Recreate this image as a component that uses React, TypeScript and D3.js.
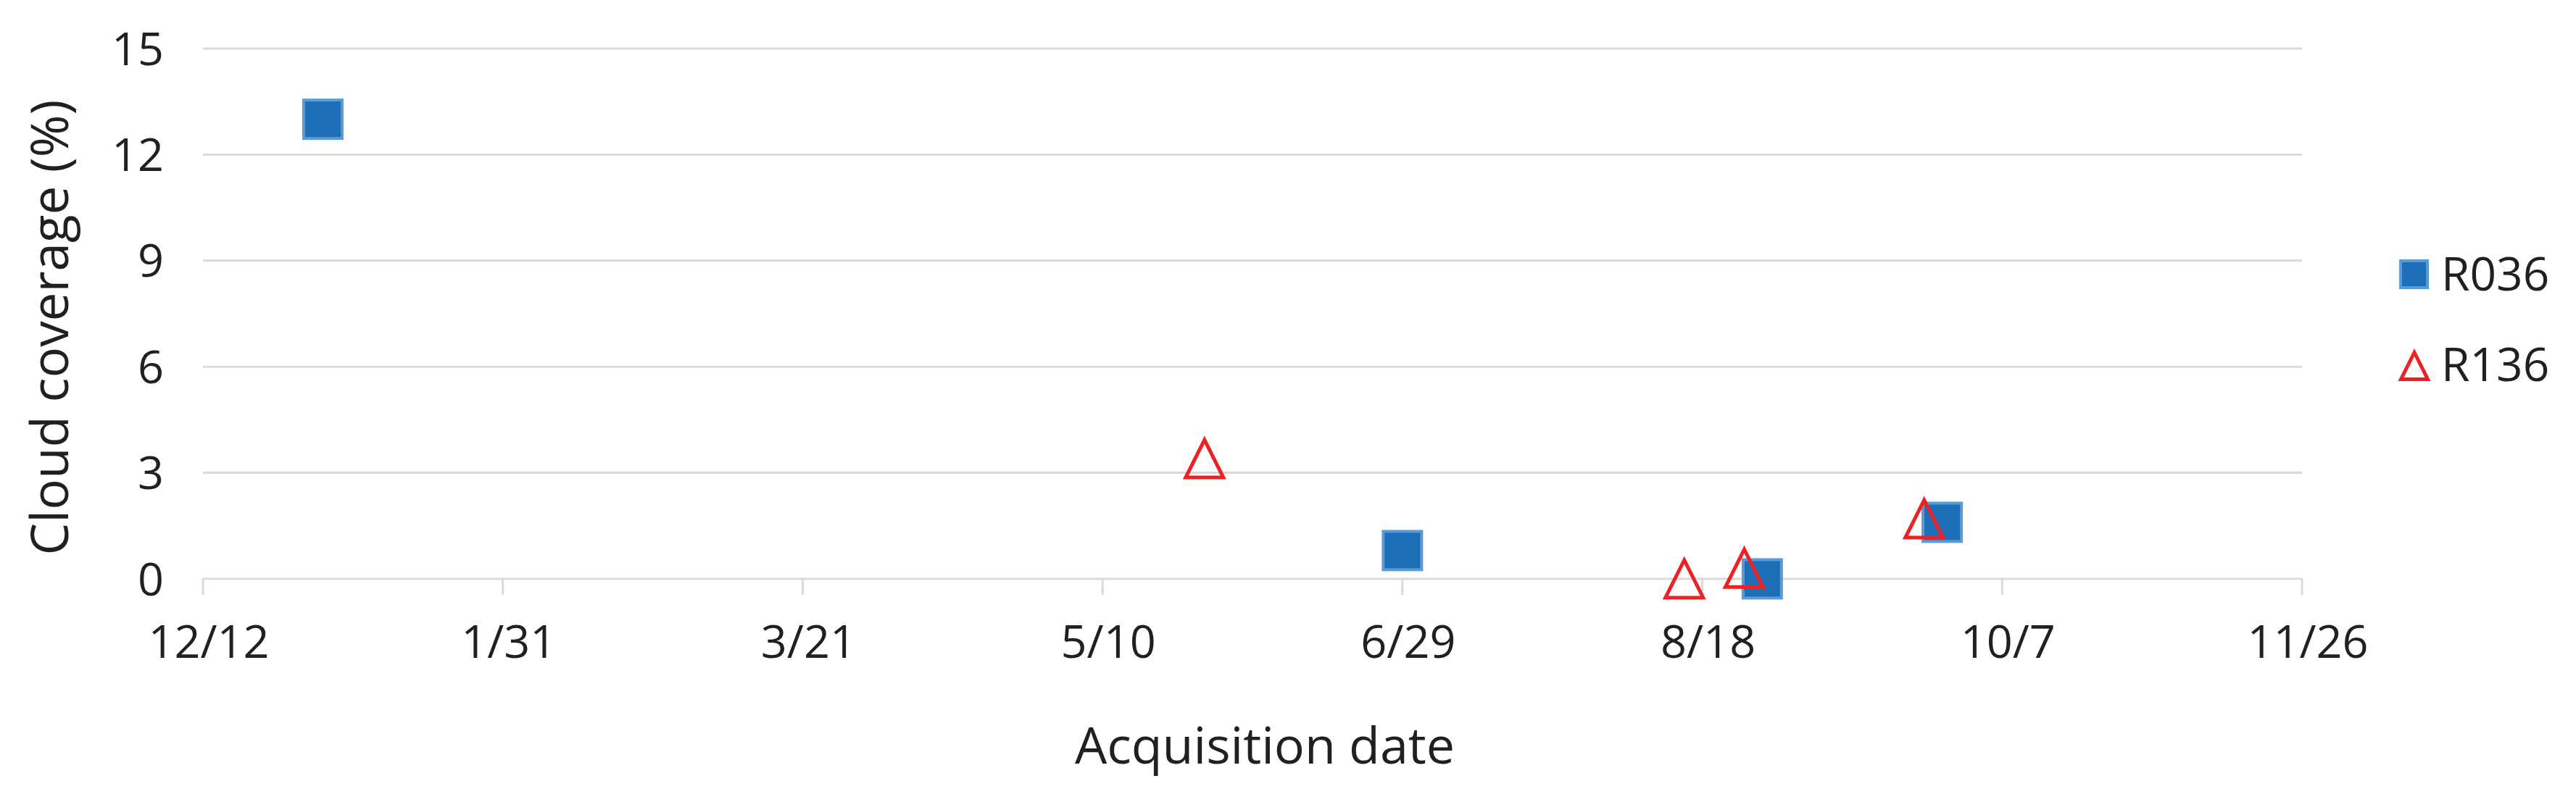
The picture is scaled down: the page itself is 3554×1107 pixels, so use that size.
import React from 'react'
import * as d3 from 'd3'

// R036 / R136 acquisitions (date, cloud %)
const r036Dates = ['2016-01-01', '2016-06-29', '2016-08-28', '2016-09-27']
const r036Cloud = [13, 0.8, 0, 1.6]
const r136Dates = ['2016-05-27', '2016-08-15', '2016-08-25', '2016-09-24']
const r136Cloud = [3.4, 0, 0.3, 1.7]

const xTickDates = ['2015-12-12', '2016-01-31', '2016-03-21', '2016-05-10', '2016-06-29', '2016-08-18', '2016-10-07', '2016-11-26']
const yTicks = [0, 3, 6, 9, 12, 15]
const seriesNames = ['R036', 'R136']

const W = 3554
const H = 1107
const margin = { left: 280, right: 378, top: 67, bottom: 308 }
const font = '"Open Sans", "Noto Sans", sans-serif'
const ink = '#231F20'
const grid = '#D9D9D9'
const sqFill = '#1C6FB7'
const sqStroke = '#5B9BD5'
const triStroke = '#ED2024'

const parse = d3.utcParse('%Y-%m-%d')
const fmt = d3.utcFormat('%-m/%-d')

const tri = (cx: number, cy: number, r: number) =>
  `M${cx},${cy - r}L${cx + r},${cy + r}L${cx - r},${cy + r}Z`

export default function App() {
  const innerW = W - margin.left - margin.right
  const innerH = H - margin.top - margin.bottom
  const ticks = xTickDates.map(d => parse(d) as Date)

  const x = d3.scaleUtc()
    .domain([ticks[0], ticks[ticks.length - 1]])
    .range([margin.left, margin.left + innerW])

  const y = d3.scaleLinear()
    .domain([0, 15])
    .range([margin.top + innerH, margin.top])

  const r036 = r036Dates.map((d, i) => ({ date: parse(d) as Date, v: r036Cloud[i] }))
  const r136 = r136Dates.map((d, i) => ({ date: parse(d) as Date, v: r136Cloud[i] }))

  const x0 = x.range()[0]
  const x1 = x.range()[1]
  const base = y(0)

  return (
    <svg width={W} height={H} style={{ position: 'absolute', left: 0, top: 0, background: '#fff' }}>
      {/* gridlines */}
      {yTicks.map((t, i) => (
        <g key={i}>
          <line x1={x0} x2={x1} y1={y(t)} y2={y(t)} stroke={grid} strokeWidth={3} />
          <text x={226} y={y(t)} dy="0.36em" textAnchor="end" fontFamily={font} fontSize={63} fill={ink}>{t}</text>
        </g>
      ))}
      {/* x ticks */}
      {ticks.map((t, i) => (
        <g key={i} transform={`translate(${x(t)},0)`}>
          <line y1={base} y2={base + 22} stroke={grid} strokeWidth={3} />
          <text y={908} dx={8} textAnchor="middle" fontFamily={font} fontSize={63} fill={ink}>{fmt(t)}</text>
        </g>
      ))}
      {/* R036 squares */}
      {r036.map((d, i) => (
        <rect key={i} x={x(d.date) - 26.5} y={y(d.v) - 26.5} width={53} height={53}
          fill={sqFill} stroke={sqStroke} strokeWidth={4} />
      ))}
      {/* R136 triangles */}
      {r136.map((d, i) => (
        <path key={i} d={tri(x(d.date), y(d.v), 26)} fill="none" stroke={triStroke}
          strokeWidth={5} strokeLinejoin="miter" strokeMiterlimit={10} />
      ))}
      {/* axis titles */}
      <text x={1745} y={1054} textAnchor="middle" fontFamily={font} fontSize={70} fill={ink}>Acquisition date</text>
      <text transform="translate(94,452) rotate(-90)" textAnchor="middle" fontFamily={font} fontSize={71} fill={ink}>Cloud coverage (%)</text>
      {/* legend */}
      <rect x={3312} y={360} width={37} height={37} fill={sqFill} stroke={sqStroke} strokeWidth={4} />
      <text x={3368} y={401} fontFamily={font} fontSize={64} fill={ink}>{seriesNames[0]}</text>
      <path d={tri(3331, 505, 18.5)} fill="none" stroke={triStroke} strokeWidth={5} strokeLinejoin="miter" />
      <text x={3368} y={526} fontFamily={font} fontSize={64} fill={ink}>{seriesNames[1]}</text>
    </svg>
  )
}
